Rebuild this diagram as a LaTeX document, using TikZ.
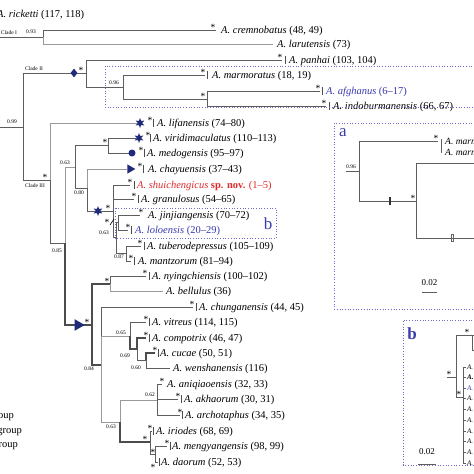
\documentclass[tikz,border=0pt]{standalone}
\usepackage{fontspec}
\setmainfont{Liberation Serif}
\usetikzlibrary{shapes.geometric}
\definecolor{brc}{HTML}{5E5E5E}
\definecolor{navy}{HTML}{1F2A7A}
\definecolor{bl}{HTML}{3A3AB0}
\definecolor{rd}{HTML}{E02828}
\definecolor{boxc}{HTML}{6A6AD0}
\newcount\stc
\newcommand\mkleaf[5]{\coordinate (e#1) at (#2,#3);\node[lab] (t#1) at (#4,#3+3.6) {#5};}
\newcommand\mkbar[2]{\draw[bar] (#1,#2-4) -- (#1,#2+4);}
\newcommand\stq[2]{\global\advance\stc by 1 \node[ast] (s\the\stc) at (#1,#2+1) {*};}
\begin{document}
\begin{tikzpicture}[x=1pt,y=-1pt,
 br/.style={draw=brc,line width=0.8pt},
 thk/.style={draw=black!70,line width=1.3pt},
 lt/.style={draw=black!40,line width=0.7pt},
 lab/.style={anchor=base west,inner sep=0pt,font=\fontsize{10.5}{12}\selectfont},
 sup/.style={inner sep=0pt,font=\fontsize{5.5}{6}\selectfont},
 ast/.style={inner sep=0pt,font=\fontsize{9.5}{9}\selectfont},
 dbox/.style={draw=boxc,dotted,line width=0.7pt},
 bar/.style={draw=black!70,line width=0.6pt},
 mk/.style={fill=navy,draw=none,inner sep=0pt},
]
\path[use as bounding box] (0,0) rectangle (474,474);
\clip (0,0) rectangle (474,474);

% ---------- leaves ----------
\node[lab] (tric) at (-3,17) {\textit{A. ricketti} (117, 118)};
\mkleaf{crem}{216}{30}{221}{\textit{A. cremnobatus} (48, 49)}
\mkleaf{laru}{273}{44}{277}{\textit{A. larutensis} (73)}
\mkleaf{panh}{282}{60}{289}{\textit{A. panhai} (103, 104)}
\mkleaf{marm}{205}{75}{212}{\textit{A. marmoratus} (18, 19)}
\mkleaf{afgh}{320}{91}{326}{\color{bl}\textit{A. afghanus} (6--17)}
\mkleaf{indo}{326}{106}{333}{\textit{A. indoburmanensis} (66, 67)}
\mkleaf{lifa}{137}{123}{157}{\textit{A. lifanensis} (74--80)}
\mkleaf{viri}{136}{138}{153}{\textit{A. viridimaculatus} (110--113)}
\mkleaf{medo}{130}{153}{147}{\textit{A. medogensis} (95--97)}
\mkleaf{chay}{127}{169}{148}{\textit{A. chayuensis} (37--43)}
\mkleaf{shui}{130}{185}{137}{\color{rd}\textit{A. shuichengicus} \textbf{sp. nov.} (1--5)}
\mkleaf{gran}{134}{199}{141}{\textit{A. granulosus} (54--65)}
\mkleaf{jinj}{140}{215}{148}{\textit{A. jinjiangensis} (70--72)}
\mkleaf{lolo}{128}{230}{135}{\color{bl}\textit{A. loloensis} (20--29)}
\mkleaf{tube}{141}{246}{147}{\textit{A. tuberodepressus} (105--109)}
\mkleaf{mant}{131}{261}{138}{\textit{A. mantzorum} (81--94)}
\mkleaf{nyin}{146}{276}{152}{\textit{A. nyingchiensis} (100--102)}
\mkleaf{bell}{163}{291}{166}{\textit{A. bellulus} (36)}
\mkleaf{chun}{193}{307}{199}{\textit{A. chunganensis} (44, 45)}
\mkleaf{vitr}{146}{322}{152}{\textit{A. vitreus} (114, 115)}
\mkleaf{comp}{146}{338}{152}{\textit{A. compotrix} (46, 47)}
\mkleaf{cuca}{155}{353}{160}{\textit{A. cucae} (50, 51)}
\mkleaf{wens}{170}{368}{173}{\textit{A. wenshanensis} (116)}
\mkleaf{aniq}{162}{384}{167}{\textit{A. aniqiaoensis} (32, 33)}
\mkleaf{akha}{178}{399}{184}{\textit{A. akhaorum} (30, 31)}
\mkleaf{arch}{180}{415}{185}{\textit{A. archotaphus} (34, 35)}
\mkleaf{irio}{152}{431}{156}{\textit{A. iriodes} (68, 69)}
\mkleaf{meng}{167}{446}{172}{\textit{A. mengyangensis} (98, 99)}
\mkleaf{daor}{158}{462}{161}{\textit{A. daorum} (52, 53)}

% bars
\mkbar{285}{60}\mkbar{207.5}{75}\mkbar{322.5}{91}\mkbar{329}{106}
\mkbar{153}{123}\mkbar{150}{138}\mkbar{144}{153}\mkbar{143}{169}
\mkbar{134}{185}\mkbar{138}{199}\mkbar{131}{230}\mkbar{144}{246}
\mkbar{134}{261}\mkbar{149}{276}\mkbar{196}{307}\mkbar{149}{322}
\mkbar{149}{338}\mkbar{158}{353}\mkbar{181}{399}\mkbar{182}{415}
\mkbar{153}{431}\mkbar{170}{446}\mkbar{159}{462}

% ---------- internal nodes ----------
\coordinate (r0) at (0,127);   \coordinate (nR) at (23,127);
\coordinate (c0) at (0,37);    \coordinate (cI) at (43,37);
\coordinate (cII) at (86,73);  \coordinate (n096) at (123,87);
\coordinate (n207) at (207,99);
\coordinate (cIII) at (50,180); \coordinate (n085) at (65,243);
\coordinate (n063a) at (75,167); \coordinate (nVM) at (108,145);
\coordinate (n080) at (87,188); \coordinate (nS) at (113,211);
\coordinate (nN) at (116,237);  \coordinate (nB) at (118,222);
\coordinate (n087) at (126,253);
\coordinate (nT) at (92,325);   \coordinate (nNB) at (110,284);
\coordinate (n084) at (101,365); \coordinate (n065) at (130,336);
\coordinate (n069) at (137,349); \coordinate (n060) at (146,360);
\coordinate (n063b) at (120,422); \coordinate (n062) at (157,400);
\coordinate (nIr) at (150,442); \coordinate (nMD) at (155,454);

% ---------- branches ----------
\draw[br] (r0) -- (nR);
\draw[br] (c0) -- (cI);
\draw[br] (cI) |- (ecrem);
\draw[lt] (cI) |- (elaru);
\draw[br] (nR) |- (cII);
\draw[br] (nR) |- (cIII);
\draw[br] (cII) |- (epanh);
\draw[br] (cII) |- (n096);
\draw[br] (n096) |- (emarm);
\draw[br] (n096) |- (n207);
\draw[br] (n207) |- (eafgh);
\draw[br] (n207) |- (eindo);
\draw[lt] (cIII) |- (elifa);
\draw[br] (cIII) |- (n085);
\draw[lt] (n085) |- (n063a);
\draw[thk] (n085) |- (nT);
\draw[br] (n063a) |- (nVM);
\draw[br] (n063a) |- (n080);
\draw[br] (nVM) |- (eviri);
\draw[br] (nVM) |- (emedo);
\draw[lt] (n080) |- (echay);
\draw[br] (n080) |- (nS);
\draw[br] (nS) |- (eshui);
\draw[br] (nS) |- (egran);
\draw[br] (nS) |- (nN);
\draw[br] (nN) |- (nB);
\draw[br] (nN) |- (n087);
\draw[br] (nB) |- (ejinj);
\draw[br] (nB) |- (elolo);
\draw[br] (n087) |- (etube);
\draw[br] (n087) |- (emant);
\draw[thk] (nT) |- (nNB);
\draw[thk] (nT) |- (n084);
\draw[br] (nNB) |- (enyin);
\draw[lt] (nNB) |- (ebell);
\draw[br] (n084) |- (echun);
\draw[lt] (n084) |- (n065);
\draw[lt] (n084) |- (n063b);
\draw[br] (n065) |- (evitr);
\draw[thk] (n065) |- (n069);
\draw[thk] (n069) |- (ecomp);
\draw[br] (n069) |- (n060);
\draw[thk] (n060) |- (ecuca);
\draw[br] (n060) |- (ewens);
\draw[lt] (n063b) |- (n062);
\draw[thk] (n063b) |- (nIr);
\draw[br] (n062) |- (eaniq);
\draw[br] (n062) |- (eakha);
\draw[br] (n062) |- (earch);
\draw[br] (nIr) |- (eirio);
\draw[br] (nIr) |- (nMD);
\draw[br] (nMD) |- (emeng);
\draw[br] (nMD) |- (edaor);

% ---------- markers ----------
\node[mk,diamond,minimum width=7,minimum height=9] (mkd) at (74,73) {};
\node[mk,star,star points=6,star point ratio=2.2,minimum size=10] (mks1) at (140,123) {};
\node[mk,star,star points=6,star point ratio=2.2,minimum size=10] (mks2) at (139,138) {};
\node[mk,circle,minimum size=7] (mkc) at (132,153) {};
\node[mk,isosceles triangle,isosceles triangle apex angle=60,minimum height=8,minimum width=8] (mkt1) at (130,169) {};
\node[mk,star,star points=6,star point ratio=2.2,minimum size=10] (mks3) at (98,211) {};
\node[mk,isosceles triangle,isosceles triangle apex angle=60,minimum height=10,minimum width=10] (mkt2) at (78,325) {};
\draw[black,line width=0.6pt] (110,225) -- (114,219);

% ---------- asterisks ----------
\stq{213}{26}\stq{280}{56}\stq{203}{71}\stq{81}{69}\stq{203}{95}
\stq{318}{87}\stq{324}{102}\stq{45}{176}\stq{150}{119}\stq{148}{134}
\stq{105}{141}\stq{141}{149}\stq{140}{165}\stq{130}{181}\stq{134}{195}
\stq{108}{207}\stq{141}{211}\stq{107}{221}\stq{128}{226}\stq{140}{242}
\stq{131}{257}\stq{87}{321}\stq{107}{280}\stq{145}{272}\stq{192}{303}
\stq{146}{318}\stq{146}{334}\stq{155}{349}\stq{162}{380}\stq{178}{395}
\stq{180}{411}\stq{145}{438}\stq{150}{427}\stq{167}{442}\stq{153}{451}
\stq{153}{466}

% ---------- support values & clade names ----------
\node[sup] (v093) at (31,32) {0.93};
\node[sup] (v099) at (12,122) {0.99};
\node[sup] (v096) at (114,83) {0.96};
\node[sup] (v063a) at (65,163) {0.63};
\node[sup] (v080) at (79,193) {0.80};
\node[sup] (v063c) at (104,233) {0.63};
\node[sup] (v087) at (119,257) {0.87};
\node[sup] (v085) at (57,251) {0.85};
\node[sup] (v065) at (121,333) {0.65};
\node[sup] (v069) at (125,356) {0.69};
\node[sup] (v060) at (136,368) {0.60};
\node[sup] (v084) at (89,369) {0.84};
\node[sup] (v062) at (150,395) {0.62};
\node[sup] (v063b) at (111,427) {0.63};
\node[sup] (clI) at (9,33) {Clade I};
\node[sup] (clII) at (34,69) {Clade II};
\node[sup] (clIII) at (35,186) {Clade III};

% ---------- dotted boxes ----------
\draw[dbox] (480,66) -- (105,66) -- (105,107) -- (480,107);
\draw[dbox] (115,208) rectangle (276,238);
\node[text=bl,inner sep=0pt,font=\fontsize{17}{17}\selectfont] (lbb) at (268,224) {b};

% ---------- legend (cropped) ----------
\node[lab,anchor=base east] (lg1) at (14,418) {oup};
\node[lab,anchor=base east] (lg2) at (22,433) {group};
\node[lab,anchor=base east] (lg3) at (18,447) {roup};

% ---------- inset a ----------
\draw[dbox] (480,123) -- (334,123) -- (334,309) -- (480,309);
\node[text=bl,inner sep=0pt,font=\fontsize{17}{17}\selectfont] (lba) at (343,133) {a};
\coordinate (a0) at (346,171); \coordinate (a1) at (359,171);
\coordinate (a1u) at (438,141); \coordinate (a2) at (416,201);
\coordinate (a2u) at (480,163); \coordinate (a2l) at (480,238);
\draw[br] (a0) -- (a1);
\node[sup] (av) at (351,167) {0.96};
\draw[br] (a1) |- (a1u);
\draw[br] (a1) |- (a2);
\draw[br] (a2) |- (a2u);
\draw[br] (a2) |- (a2l);
\fill[black!80] (389,197) rectangle (391,205);
\draw[black!60,line width=0.5pt] (451,234.5) rectangle (453,241.5);
\stq{436}{137}\stq{413}{197}
\draw[br] (442,139) -- (441,139) -- (441,152) -- (442,152);
\node[lab,font=\fontsize{9.5}{10}\selectfont] (am1) at (445,144) {\textit{A. marmoratus}};
\node[lab,font=\fontsize{9.5}{10}\selectfont] (am2) at (445,155.5) {\textit{A. marmoratus}};
\coordinate (asb1) at (422,292); \coordinate (asb2) at (437,292);
\draw[br] (asb1) -- (asb2);
\node[inner sep=0pt,font=\fontsize{9}{9}\selectfont] (asl) at (429.5,283) {0.02};

% ---------- inset b ----------
\draw[dbox] (480,320) -- (403,320) -- (403,465) -- (480,465);
\node[text=bl,inner sep=0pt,font=\bfseries\fontsize{17}{17}\selectfont] (lbb2) at (412,334) {b};
\coordinate (b0) at (447,377); \coordinate (b1) at (456,377);
\coordinate (b2) at (472,335); \coordinate (b3) at (463,397);
\draw[br] (b0) -- (b1);
\draw[br] (b1) |- (b2);
\draw[br] (b1) |- (b3);
\draw[br] (b2) -- (480,335);
\draw[br] (b2) |- (480,350);
\stq{449}{373}\stq{467}{331}\stq{459}{393}
\foreach \yy/\cc/\ff [count=\i] in {367/black/\mdseries,377/black/\bfseries,388/bl/\mdseries,398/black/\mdseries,409/black/\mdseries,420/black/\mdseries,431/black/\mdseries,441/black/\mdseries,452/black/\mdseries,463/black/\mdseries}{
  \coordinate (bl\i) at (466,\yy);
  \draw[br,line width=0.5pt] (b3) |- (bl\i);
  \node[lab,text=\cc,font=\ff\fontsize{7}{7}\selectfont] (bt\i) at (467,\yy+2.5) {\textit{A. m}};
}
\coordinate (bsb1) at (418,464); \coordinate (bsb2) at (436,464);
\draw[br] (bsb1) -- (bsb2);
\node[inner sep=0pt,font=\fontsize{9}{9}\selectfont] (bsl) at (427,452) {0.02};
\end{tikzpicture}
\end{document}
